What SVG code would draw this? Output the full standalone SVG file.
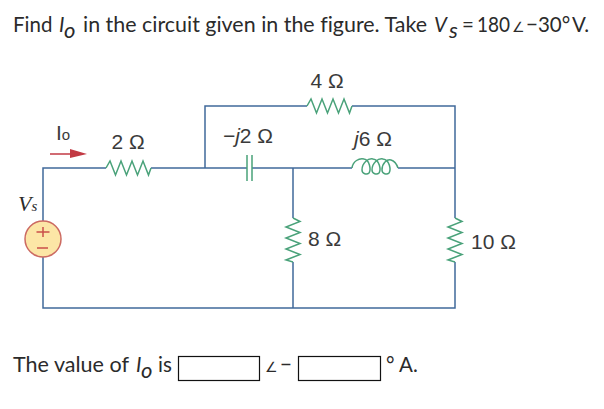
<svg xmlns="http://www.w3.org/2000/svg" width="604" height="409" viewBox="0 0 604 409">
<style>
.t{font-family:"Lato","Open Sans","DejaVu Sans",sans-serif;font-size:20.5px;fill:#2b2b2b;font-variant-ligatures:none}
.i{font-style:italic}
.sub{font-size:22px}
.a{font-family:"DejaVu Sans",sans-serif;font-size:14px;fill:#2b2b2b}
.l{font-family:"Liberation Sans","DejaVu Sans",sans-serif;font-size:21px;fill:#3a3a3a}
.wire{fill:none;stroke:#40699b;stroke-width:1.5}
.el{fill:none;stroke:#4aa27a;stroke-width:1.5;stroke-linejoin:miter}
.box{fill:#fff;stroke:#111;stroke-width:1.2}
</style>
<defs>
<path id="rh" d="M0 0L4 -7L9.500 7L15 -7L20.500 7L26 -7L31.500 7L37 -7L42.500 7L45 0" class="el"/>
<path id="rv" d="M0 0L7 3.500L-7 9L7 14.500L-7 20L7 25.500L-7 31L7 36.500L-7 42L0 44" class="el"/>
</defs>
<g id="question">
<text class="t" x="13" y="32">Find</text>
<text class="t i" x="59" y="32">I</text>
<text class="t i sub" x="64" y="38">o</text>
<text class="t" x="83" y="32" textLength="344" lengthAdjust="spacingAndGlyphs">in the circuit given in the figure. Take</text>
<text class="t i" x="434" y="32">V</text>
<text class="t i sub" x="449" y="38">s</text>
<text class="t" x="462" y="32">=</text>
<text class="t" x="477" y="32" textLength="33" lengthAdjust="spacingAndGlyphs">180</text>
<text class="a" x="512" y="32">∠</text>
<text class="t" x="526" y="32">−30°</text>
<text class="t" x="572" y="32">V.</text>
</g>
<g id="connectors">
<path class="wire" d="M43 221V168H106M151 168H247M252 168H352M398 168H455M205 168V106H307M352 106H455V218M455 262V308H43V257M293 168V218M293 262V308"/>
</g>
<g id="r-2"><use href="#rh" x="106" y="168"/><text class="l" x="128" y="149" text-anchor="middle">2 Ω</text></g>
<g id="r-4"><use href="#rh" x="307" y="106"/><text class="l" x="327" y="88" text-anchor="middle">4 Ω</text></g>
<g id="c-j2"><path class="el" d="M247 155V181M252 155V181"/><text class="l" x="248" y="143" text-anchor="middle"><tspan class="i">−j</tspan>2 Ω</text></g>
<g id="l-j6"><path class="el" d="M352 168C353 161 359 158 364 159C370 160 371 170 369 173C367 175 362 174 362 170C362 163 368 158 373 159C380 160 381 170 379 173C377 175 372 174 372 170C372 163 378 158 383 159C390 160 391 170 389 173C387 175 382 174 382 170C382 163 387 159 391 160C395 161 397 165 398 168"/><text class="l" x="373" y="146" text-anchor="middle"><tspan class="i">j</tspan>6 Ω</text></g>
<g id="r-8"><use href="#rv" x="293" y="218"/><text class="l" x="308" y="246">8 Ω</text></g>
<g id="r-10"><use href="#rv" x="455" y="218"/><text class="l" x="471" y="249">10 Ω</text></g>
<g id="source">
<circle cx="43" cy="239" r="18" fill="#fce6a6" stroke="#cc6a62" stroke-width="1.500"/>
<path d="M36.500 232H49.500M43 227V237M37 248H48" fill="none" stroke="#c94f4a" stroke-width="1.500"/>
<text x="18" y="211" font-family="Liberation Serif,serif" font-style="italic" font-size="22" fill="#2b2b2b">V<tspan font-size="15">s</tspan></text>
</g>
<g id="current">
<path d="M50 154H74" stroke="#c23a44" stroke-width="1.500" fill="none"/>
<path d="M70 149L87 154L70 158Z" fill="#c23a44"/>
<text x="56" y="140" font-family="Liberation Sans,sans-serif" font-size="21" fill="#3a3a3a">I<tspan font-size="15" dy="0">o</tspan></text>
</g>
<g id="answer">
<text class="t" x="13" y="372" textLength="116" lengthAdjust="spacingAndGlyphs">The value of</text>
<text class="t i" x="136" y="372">I</text>
<text class="t i sub" x="141" y="378">o</text>
<text class="t" x="158" y="372">is</text>
<rect class="box" x="178.500" y="356.500" width="81" height="24"/>
<text class="a" x="265" y="372">∠</text>
<text class="t" x="280" y="372">−</text>
<rect class="box" x="298.500" y="356.500" width="82" height="24"/>
<text class="t" x="386" y="372">°</text>
<text class="t" x="399" y="372">A.</text>
</g>
</svg>
